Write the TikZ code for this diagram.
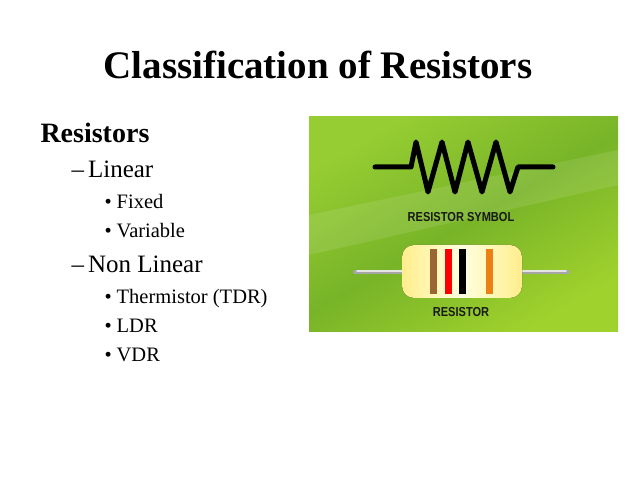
\documentclass[tikz,border=0pt]{standalone}
\usepackage{fontspec}
\setmainfont{Liberation Serif}
\newfontfamily\labelfont{Liberation Sans}
\begin{document}
\begin{tikzpicture}[x=1pt, y=-1pt,
	level1/.style={anchor=base west, font=\fontsize{25}{27}\selectfont},
	level2/.style={anchor=base west, font=\fontsize{20.5}{22}\selectfont},
	tag/.style={font=\labelfont\bfseries\fontsize{13}{14}\selectfont, text=black!90, xscale=0.85},
	band/.style={line width=7pt}]
	\useasboundingbox (0, 0) rectangle (638, 478);

	\node[font=\bfseries\fontsize{39}{42}\selectfont] (title) at (318, 65) {Classification of Resistors};

	\node[anchor=base west, font=\bfseries\fontsize{28}{30}\selectfont] (root) at (37, 143) {Resistors};
	\node[level1] (linear) at (68, 178) {\textendash\hspace{4pt}Linear};
	\node[level2] (fixed) at (101, 209) {\textbullet\hspace{5pt}Fixed};
	\node[level2] (variable) at (101, 238) {\textbullet\hspace{5pt}Variable};
	\node[level1] (nonlinear) at (68, 273) {\textendash\hspace{4pt}Non Linear};
	\node[level2] (thermistor) at (101, 304) {\textbullet\hspace{5pt}Thermistor (TDR)};
	\node[level2] (ldr) at (101, 333) {\textbullet\hspace{5pt}LDR};
	\node[level2] (vdr) at (101, 362) {\textbullet\hspace{5pt}VDR};

	% picture panel
	\definecolor{leafA}{RGB}{150,205,50}
	\definecolor{leafB}{RGB}{120,180,40}
	\shade[left color=leafA, right color=leafA!90!yellow, middle color=leafB, shading angle=30]
		(309, 117) rectangle (618, 332);
	\fill[white, opacity=0.10] (309, 215) -- (618, 150) -- (618, 185) -- (309, 255) -- cycle;

	\draw[line width=5pt, line cap=round, line join=round]
		(375, 167) -- (411, 167) -- (416, 142) -- (428, 192) -- (442, 142) -- (455, 192)
		-- (468, 142) -- (482, 192) -- (496, 142) -- (510, 192) -- (518, 167) -- (553, 167);
	\node[tag] (symbol) at (461, 217) {RESISTOR SYMBOL};

	\draw[line width=4pt, line cap=round, gray!70] (355, 272) -- (568, 272);
	\draw[line width=1.5pt, line cap=round, gray!20] (357, 271) -- (566, 271);
	\fill[left color=orange!30!yellow!45, right color=orange!30!yellow!45, middle color=yellow!12, rounded corners=12pt]
		(402, 245) rectangle (522, 298);
	\draw[band, brown!80!black] (433, 249) -- (433, 294);
	\draw[band, red] (448, 249) -- (448, 294);
	\draw[band, black] (462, 249) -- (462, 294);
	\draw[band, orange!70!brown] (489, 249) -- (489, 294);
	\node[tag] (body) at (461, 312) {RESISTOR};
\end{tikzpicture}
\end{document}
